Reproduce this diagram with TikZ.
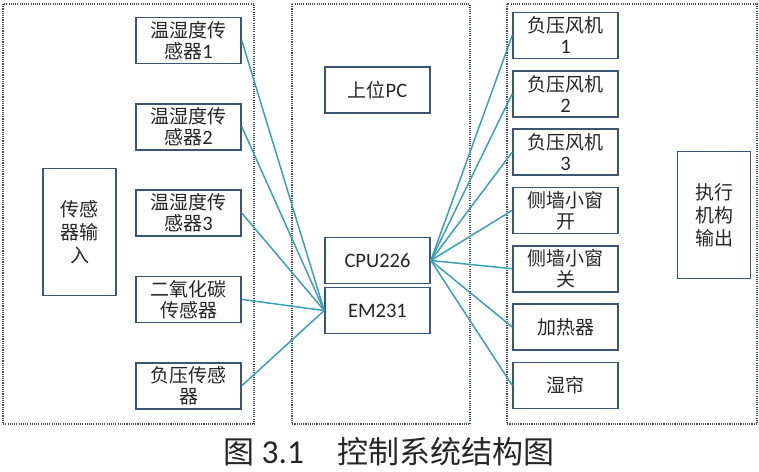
\documentclass[tikz,border=0pt]{standalone}
\usepackage{fontspec}
\setmainfont{Carlito}[Scale=1.08]
\newfontfamily\cjk{Noto Sans CJK SC}
\usepackage{tikz}
\usetikzlibrary{positioning}
\definecolor{boxblue}{RGB}{59,85,116}
\definecolor{linkteal}{RGB}{60,160,180}
\definecolor{groupgray}{RGB}{70,80,95}
\tikzset{
    unitbox/.style={
        draw=boxblue, fill=white, line width=1.6pt,
        minimum width=105pt, minimum height=46pt,
        inner sep=0pt, align=center, text=black!85,
        font=\fontsize{19}{21}\selectfont
    },
    tallbox/.style={
        unitbox, minimum width=73pt, minimum height=127pt,
        font=\fontsize{19}{23}\selectfont
    },
    groupframe/.style={
        draw=groupgray, line width=1.1pt,
        dash pattern=on 1.1pt off 1.1pt
    },
    link/.style={
        draw=linkteal, line width=1.5pt
    }
}

\begin{document}
\begin{tikzpicture}[x=1pt, y=-1pt, node distance=38.7pt]
    \useasboundingbox (0,0) rectangle (759,471);

    % dotted group frames
    \draw[groupframe] (3,4) rectangle (254,424);
    \draw[groupframe] (292,4) rectangle (470,424);
    \draw[groupframe] (507,4) rectangle (757,424);

    % sensor side
    \node[tallbox] (input) at (79.5,232) {\cjk 传感\\\cjk 器输\\\cjk 入};
    \node[unitbox] (th1) at (188.5,40.5) {\cjk 温湿度传\\{\cjk 感器}1};
    \node[unitbox, below=of th1] (th2) {\cjk 温湿度传\\{\cjk 感器}2};
    \node[unitbox, below=of th2] (th3) {\cjk 温湿度传\\{\cjk 感器}3};
    \node[unitbox, below=of th3] (co2) {\cjk 二氧化碳\\\cjk 传感器};
    \node[unitbox, below=of co2] (press) {\cjk 负压传感\\\cjk 器};

    % controller
    \node[unitbox] (pc) at (377.5,90) {{\cjk 上位}PC};
    \node[unitbox] (cpu) at (377.5,260.5) {CPU226};
    \node[unitbox, below=2.4pt of cpu] (em) {EM231};

    % actuator side
    \node[tallbox] (output) at (714,215) {\cjk 执行\\\cjk 机构\\\cjk 输出};
    \node[unitbox] (fan1) at (565.5,35.5) {\cjk 负压风机\\1};
    \node[unitbox, below=10.7pt of fan1] (fan2) {\cjk 负压风机\\2};
    \node[unitbox, below=10.7pt of fan2] (fan3) {\cjk 负压风机\\3};
    \node[unitbox, below=10.7pt of fan3] (winopen) {\cjk 侧墙小窗\\\cjk 开};
    \node[unitbox, below=10.7pt of winopen] (winclose) {\cjk 侧墙小窗\\\cjk 关};
    \node[unitbox, below=10.7pt of winclose] (heater) {\cjk 加热器};
    \node[unitbox, below=10.7pt of heater] (curtain) {\cjk 湿帘};

    % links
    \foreach \s in {th1,th2,th3,co2,press}
        \draw[link] (\s.east) -- (em.west);
    \foreach \a in {fan1,fan2,fan3,winopen,winclose,heater,curtain}
        \draw[link] (cpu.east) -- (\a.west);

    % caption
    \node[font=\fontsize{31}{33}\selectfont, text=black!85] (caption) at (389,452)
        {{\cjk 图} 3.1\hspace{34pt}{\cjk 控制系统结构图}};
\end{tikzpicture}
\end{document}
